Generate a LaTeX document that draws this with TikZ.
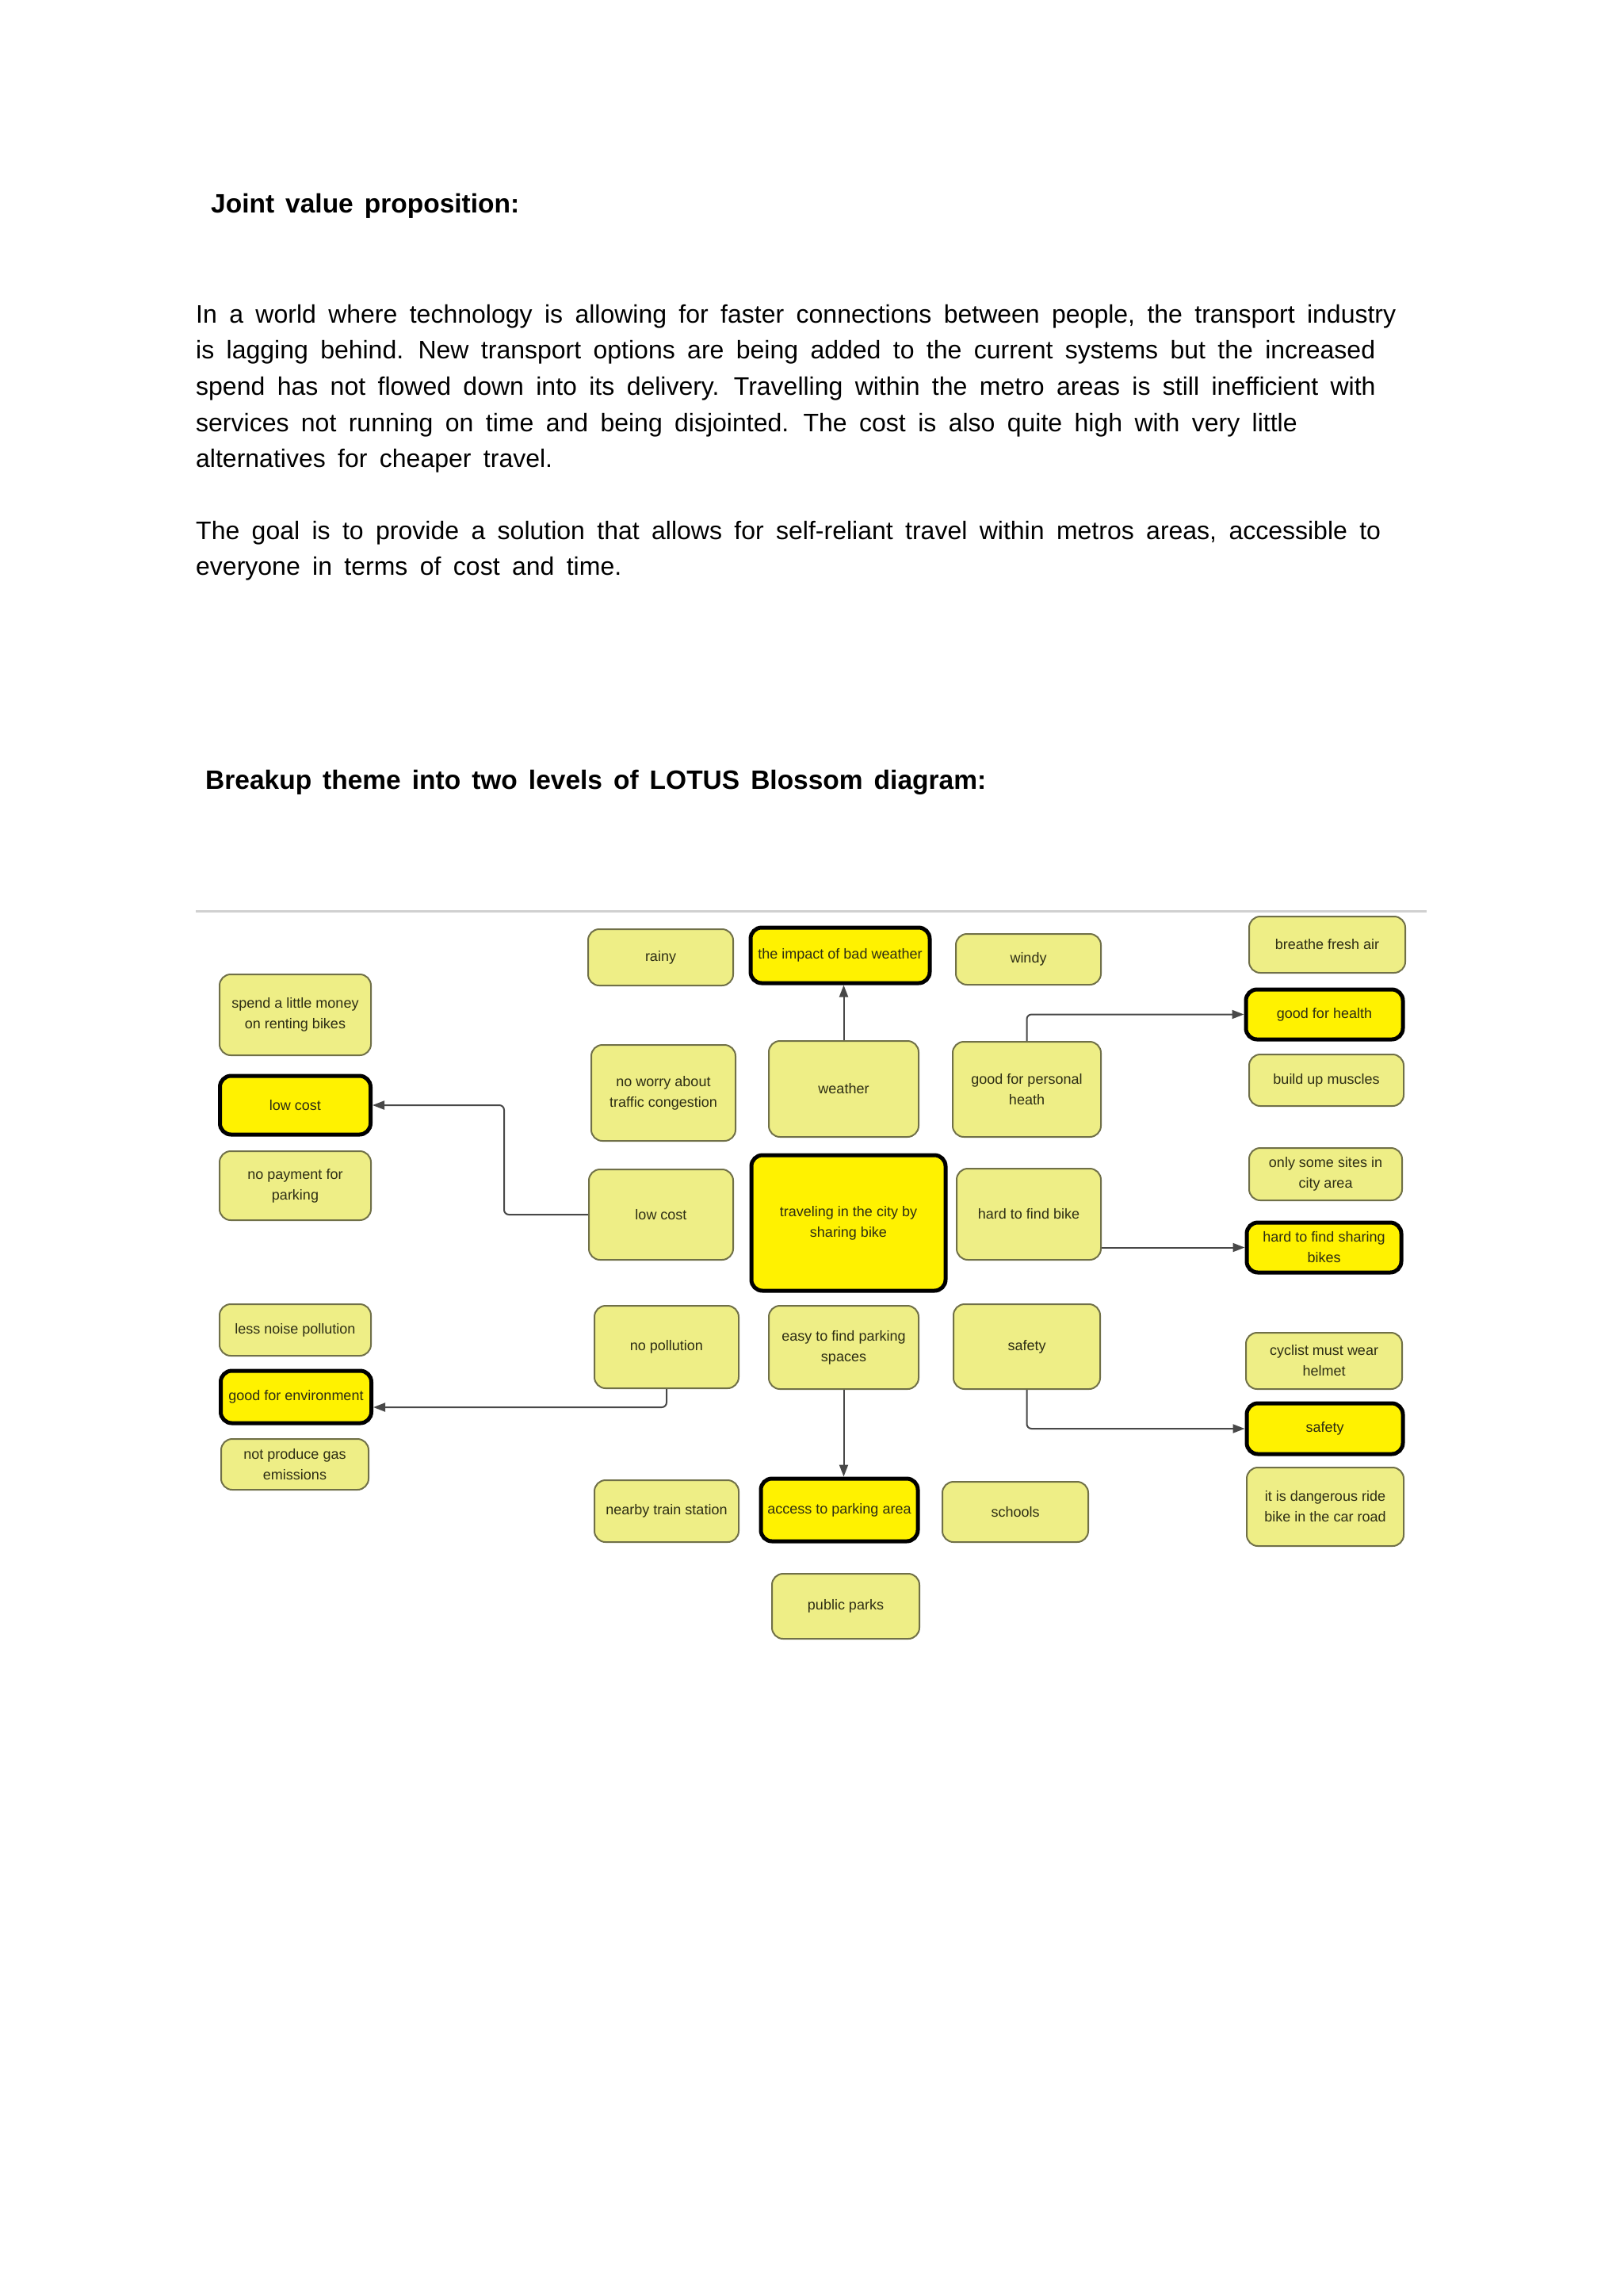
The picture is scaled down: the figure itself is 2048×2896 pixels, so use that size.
\documentclass[tikz,border=0pt]{standalone}
\usepackage{fontspec}
\setmainfont{Liberation Sans}
\usetikzlibrary{arrows.meta}

\definecolor{paleyellow}{RGB}{238,238,134}
\definecolor{boxedge}{RGB}{112,112,72}
\definecolor{boxtext}{RGB}{45,45,20}
\definecolor{linkgray}{RGB}{72,72,72}
\definecolor{rulegray}{RGB}{208,208,208}

\begin{document}
\begin{tikzpicture}[x=1pt, y=-1pt,
  idea/.style={draw=boxedge, fill=paleyellow, line width=2pt, rounded corners=14pt,
    align=center, inner sep=2pt, text=boxtext, font=\fontsize{18}{26}\selectfont},
  focus/.style={idea, draw=black, fill=yellow, line width=5pt},
  box size/.style 2 args={minimum width=#1pt, minimum height=#2pt},
  link/.style={draw=linkgray, line width=2pt, rounded corners=6pt,
    -{Triangle[length=15pt,width=11pt]}},
  heading/.style={anchor=base west, inner sep=0pt,
    font={\bfseries\fontsize{33.5}{40}\selectfont\spaceskip=14pt plus 2pt}},
  bodytext/.style={anchor=north west, align=left, inner sep=0pt,
    font={\fontsize{32}{45.6}\selectfont\spaceskip=15.4pt plus 2pt minus 2pt}}
]
  % Page
  \useasboundingbox (0,0) rectangle (2048,2896);

  % Text part
  \node[heading] (title) at (266,268) {Joint value proposition:};
  \node[bodytext] (problem) at (247,384)
    {In a world where technology is allowing for faster connections between people, the transport industry\\
     is lagging behind. New transport options are being added to the current systems but the increased\\
     spend has not flowed down into its delivery. Travelling within the metro areas is still inefficient with\\
     services not running on time and being disjointed. The cost is also quite high with very little\\
     alternatives for cheaper travel.};
  \node[bodytext] (goal) at (247,657)
    {The goal is to provide a solution that allows for self-reliant travel within metros areas, accessible to\\
     everyone in terms of cost and time.};
  \node[heading] (lotus) at (259,995) {Breakup theme into two levels of LOTUS Blossom diagram:};

  % Rule above the diagram
  \draw[rulegray, line width=3pt] (247,1149) -- (1800,1149);

  % Left column
  \node[idea, box size={191}{102}] (spend) at (372.5,1280) {spend a little money\\on renting bikes};
  \node[focus, box size={190}{74}] (lowcostL) at (372.5,1394) {low cost};
  \node[idea, box size={191}{87}] (nopayment) at (372.5,1495.5) {no payment for\\parking};
  \node[idea, box size={191}{65}] (lessnoise) at (372.5,1677.5) {less noise pollution};
  \node[focus, box size={190}{66}] (goodenv) at (373.5,1762) {good for environment};
  \node[idea, box size={186}{64}] (notproduce) at (372,1847) {not produce gas\\emissions};

  % Middle grid
  \node[idea, box size={183}{71}] (rainy) at (833.5,1207.5) {rainy};
  \node[focus, box size={226}{70}] (impact) at (1060,1205) {the impact of bad weather};
  \node[idea, box size={183}{64}] (windy) at (1297.5,1210) {windy};

  \node[idea, box size={182}{121}] (noworry) at (837,1378.5) {no worry about\\traffic congestion};
  \node[idea, box size={189}{121}] (weather) at (1064.5,1373.5) {weather};
  \node[idea, box size={187}{120}] (goodpersonal) at (1295.5,1374) {good for personal\\heath};

  \node[idea, box size={182}{114}] (lowcostM) at (834,1532) {low cost};
  \node[focus, box size={245}{171}] (center) at (1070.5,1542.5) {traveling in the city by\\sharing bike};
  \node[idea, box size={182}{115}] (hardbike) at (1298,1531.5) {hard to find bike};

  \node[idea, box size={182}{104}] (nopollution) at (841,1699) {no pollution};
  \node[idea, box size={189}{105}] (easyparking) at (1064.5,1699.5) {easy to find parking\\spaces};
  \node[idea, box size={185}{107}] (safetyM) at (1295.5,1698.5) {safety};

  \node[idea, box size={182}{78}] (nearbytrain) at (841,1906) {nearby train station};
  \node[focus, box size={198}{79}] (access) at (1059,1904.5) {access to parking area};
  \node[idea, box size={184}{76}] (schools) at (1281,1907) {schools};
  \node[idea, box size={186}{82}] (publicparks) at (1067,2026) {public parks};

  % Right column
  \node[idea, box size={197}{71}] (breathe) at (1674.5,1191.5) {breathe fresh air};
  \node[focus, box size={198}{63}] (goodhealth) at (1671,1279.5) {good for health};
  \node[idea, box size={195}{65}] (buildup) at (1673.5,1362.5) {build up muscles};
  \node[idea, box size={193}{66}] (onlysome) at (1672.5,1481) {only some sites in\\city area};
  \node[focus, box size={195}{63}] (hardsharing) at (1670.5,1573.5) {hard to find sharing\\bikes};
  \node[idea, box size={197}{71}] (cyclist) at (1670.5,1716.5) {cyclist must wear\\helmet};
  \node[focus, box size={197}{64}] (safetyR) at (1671.5,1802) {safety};
  \node[idea, box size={198}{99}] (dangerous) at (1672,1900.5) {it is dangerous ride\\bike in the car road};

  % Connectors
  \coordinate (costbend) at (636,1532);
  \draw[link] (weather.north) -- (weather.north |- impact.south);
  \draw[link] (goodpersonal.north) |- (goodhealth.west);
  \draw[link] (lowcostM.west) -- (costbend) |- (lowcostL.east);
  \draw[link] (hardbike.east |- hardsharing.west) -- (hardsharing.west);
  \draw[link] (nopollution.south) |- ([yshift=-13pt]goodenv.east);
  \draw[link] (easyparking.south) -- (easyparking.south |- access.north);
  \draw[link] (safetyM.south) |- (safetyR.west);

\end{tikzpicture}
\end{document}
